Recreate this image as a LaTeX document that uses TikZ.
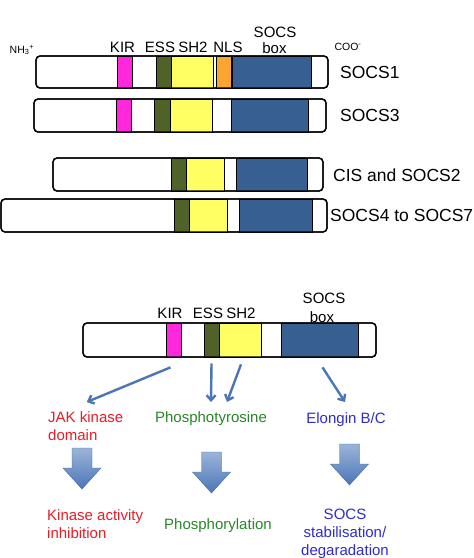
\documentclass[tikz,border=0pt]{standalone}
\usepackage{fontspec}
\setmainfont{Liberation Sans}
\usetikzlibrary{arrows.meta}

\definecolor{kirc}{RGB}{255,40,220}
\definecolor{essc}{RGB}{79,98,40}
\definecolor{sh2c}{RGB}{255,255,100}
\definecolor{nlsc}{RGB}{250,165,50}
\definecolor{boxc}{RGB}{55,95,146}
\definecolor{arrowc}{RGB}{74,118,184}
\definecolor{redtext}{RGB}{230,30,40}
\definecolor{greentext}{RGB}{40,135,40}
\definecolor{bluetext}{RGB}{45,45,205}

\begin{document}
\begin{tikzpicture}[x=1pt,y=-1pt]

		\tikzset{bar/.style = {draw, line width=1.3pt, rounded corners=4pt}}
		\tikzset{seg/.style = {draw, line width=0.7pt}}
		\tikzset{head/.style = {font=\fontsize{15}{17}\selectfont, inner sep=0pt}}
		\tikzset{small/.style = {font=\fontsize{10.5}{12}\selectfont, inner sep=0pt}}
		\tikzset{protein/.style = {font=\fontsize{17.5}{20}\selectfont, inner sep=0pt, anchor=west}}
		\tikzset{effect/.style = {font=\fontsize{15}{18}\selectfont, inner sep=0pt}}
		\tikzset{edge/.style = {-{Straight Barb[length=5pt,width=9pt]}, line width=2.4pt, arrowc}}
		\tikzset{fatarrow/.pic = {\shade[top color=arrowc!55, bottom color=arrowc, draw=arrowc!90!black, line width=0.4pt]
				(-10,0) -- (10,0) -- (10,20) -- (19,20) -- (0,41) -- (-19,20) -- (-10,20) -- cycle;}}
		
		\useasboundingbox (0,0) rectangle (474,558);
		
		% SOCS1
		\draw[bar, fill=white] (36,56) rectangle (328,88);
		\foreach \xa/\xb/\col in {117/132/kirc, 156/171/essc, 171/213/sh2c, 216/231/nlsc, 232/311/boxc}
			\draw[seg, fill=\col] (\xa,56) rectangle (\xb,88);
		\draw[bar] (36,56) rectangle (328,88);
		
		% SOCS3
		\draw[bar, fill=white] (34,99) rectangle (326,132);
		\foreach \xa/\xb/\col in {116/131/kirc, 154/170/essc, 170/212/sh2c, 231/308/boxc}
			\draw[seg, fill=\col] (\xa,99) rectangle (\xb,132);
		\draw[bar] (34,99) rectangle (326,132);
		
		% CIS and SOCS2
		\draw[bar, fill=white] (53,158) rectangle (323,191);
		\foreach \xa/\xb/\col in {171/186/essc, 186/224/sh2c, 236/307/boxc}
			\draw[seg, fill=\col] (\xa,158) rectangle (\xb,191);
		\draw[bar] (53,158) rectangle (323,191);
		
		% SOCS4 to SOCS7
		\draw[bar, fill=white] (1,199) rectangle (327,232);
		\foreach \xa/\xb/\col in {174/189/essc, 189/227/sh2c, 239/312/boxc}
			\draw[seg, fill=\col] (\xa,199) rectangle (\xb,232);
		\draw[bar] (1,199) rectangle (327,232);
		
		\node[small] (nh) at (22,50) {NH\textsubscript{3}\textsuperscript{+}};
		\node[small] (coo) at (348,47) {COO\textsuperscript{-}};
		\node[head] (tkir) at (122.5,47.5) {KIR};
		\node[head] (tess) at (160,47.5) {ESS};
		\node[head] (tsh2) at (193,47.5) {SH2};
		\node[head] (tnls) at (228,47.5) {NLS};
		\node[head] (tsocs) at (275,32) {SOCS};
		\node[head] (tbox) at (274.5,48.5) {box};
		
		\node[protein] (socs1) at (340,72) {SOCS1};
		\node[protein] (socs3) at (340,115.5) {SOCS3};
		\node[protein] (cis) at (333,175) {CIS and SOCS2};
		\node[protein] (socs4) at (330,215.5) {SOCS4 to SOCS7};
		
		% general structure
		\draw[bar, fill=white] (83,323) rectangle (376,357);
		\node[seg, fill=kirc, minimum width=15, minimum height=34, inner sep=0pt] (kir) at (173.5,340) {};
		\node[seg, fill=essc, minimum width=15, minimum height=34, inner sep=0pt] (ess) at (211.5,340) {};
		\node[seg, fill=sh2c, minimum width=42, minimum height=34, inner sep=0pt] (sh2) at (240,340) {};
		\node[seg, fill=boxc, minimum width=77, minimum height=34, inner sep=0pt] (socsbox) at (319.5,340) {};
		\draw[bar] (83,323) rectangle (376,357);
		
		\node[head] (bkir) at (170,313.5) {KIR};
		\node[head] (bess) at (208,313.5) {ESS};
		\node[head] (bsh2) at (241,313.5) {SH2};
		\node[head] (bsocs) at (324,298) {SOCS};
		\node[head] (bbox) at (322,317) {box};
		
		% binding partners
		\node[effect, text=redtext, align=left, anchor=north west] (jak) at (48,411) {JAK kinase\\domain};
		\node[effect, text=greentext, anchor=base] (phos) at (211,422) {Phosphotyrosine};
		\node[effect, text=bluetext, anchor=base] (elongin) at (346,423) {Elongin B/C};
		
		\draw[edge] ([xshift=-3pt,yshift=-10pt]kir.south) -- ([xshift=1pt,yshift=9pt]jak.north);
		\draw[edge] ([yshift=-6pt]ess.south) -- ([yshift=20pt]phos.base);
		\draw[edge] ([xshift=1pt,yshift=-7pt]sh2.south) -- ([xshift=16pt,yshift=20pt]phos.base);
		\draw[edge] ([xshift=3pt,yshift=-10pt]socsbox.south) -- ([xshift=-1pt,yshift=21pt]elongin.base);
		
		% effects
		\pic at (82,448) {fatarrow};
		\pic at (211.5,452) {fatarrow};
		\pic at (349.5,444) {fatarrow};
		
		\node[effect, text=redtext, align=left, anchor=north west] (inhib) at (47,509) {Kinase activity\\inhibition};
		\node[effect, text=greentext, anchor=base] (phosph) at (218,529) {Phosphorylation};
		\node[effect, text=bluetext, align=center, anchor=north] (stab) at (345,509) {SOCS\\stabilisation/\\degaradation};
		
\end{tikzpicture}
\end{document}
